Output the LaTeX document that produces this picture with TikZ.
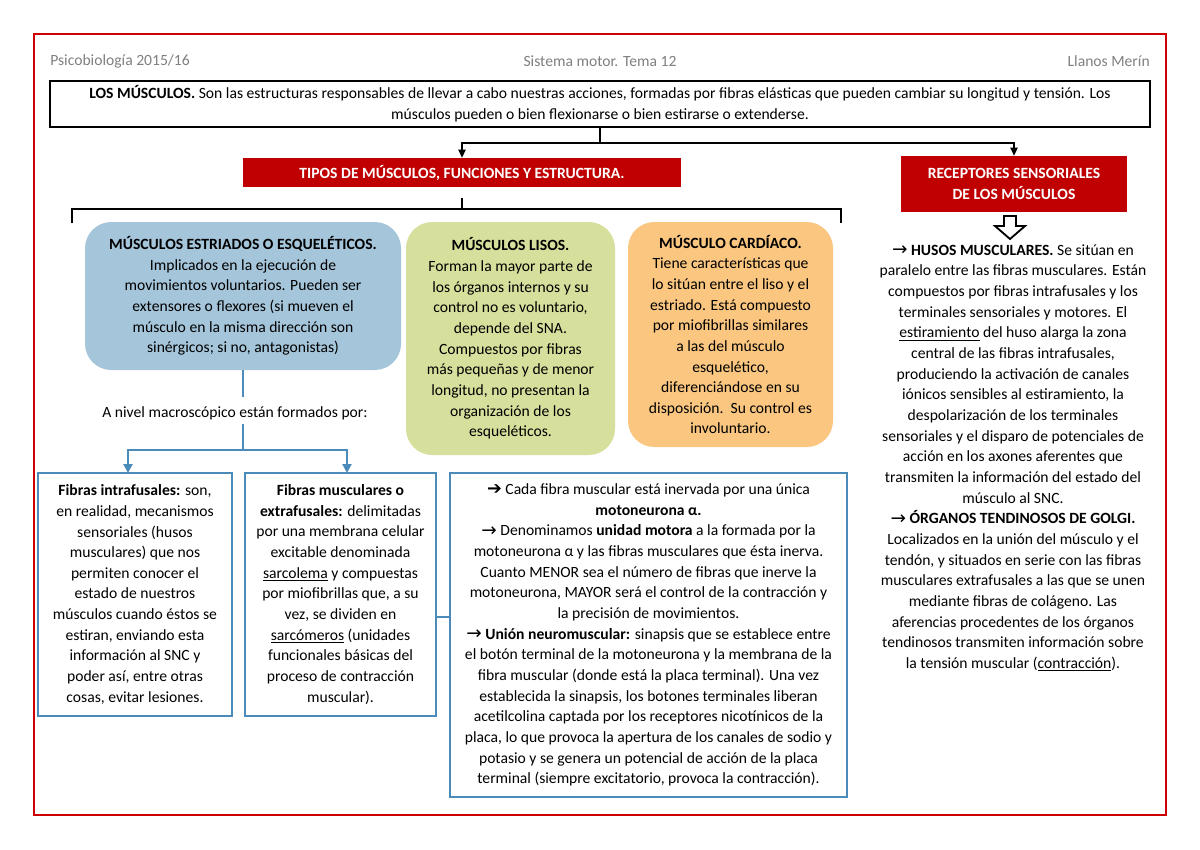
\documentclass[tikz,border=0pt]{standalone}
\usepackage{fontspec}
\setmainfont{Carlito}
\newfontfamily\symf{DejaVu Sans}
\usetikzlibrary{arrows.meta,calc}
\definecolor{dred}{HTML}{C00000}
\definecolor{frame}{RGB}{204,0,0}
\definecolor{bluef}{RGB}{165,197,218}
\definecolor{greenf}{RGB}{214,223,155}
\definecolor{orangef}{RGB}{250,198,128}
\definecolor{lineb}{RGB}{74,139,186}
\definecolor{hgray}{RGB}{128,128,128}
\newcommand{\pxl}{0.2475mm}
\newcommand{\ar}{\raisebox{-0.3pt}{\symf\fontsize{13}{10}\selectfont →}}
\newcommand{\barr}{\raisebox{-0.3pt}{\symf\fontsize{12.5}{10}\selectfont ➔}}
\tikzset{
  txt/.style={font=\fontsize{11}{14.55}\selectfont, align=center, inner sep=0pt},
  redbox/.style={txt, fill=dred, text=white, font=\fontsize{11}{14.55}\selectfont\bfseries},
  roundbox/.style={txt, rounded corners=6.5mm},
  bluebox/.style={txt, draw=lineb, line width=1.6pt},
  blkarrow/.style={-{Triangle[length=2mm,width=1.8mm]}, line width=1.1pt},
  bluearrow/.style={draw=lineb, line width=1.6pt, -{Triangle[length=2.2mm,width=2.2mm]}},
  blueline/.style={draw=lineb, line width=1.6pt},
}
\begin{document}
\begin{tikzpicture}[x=0.2475mm,y=-0.2475mm]
\useasboundingbox (0,0) rectangle (1200,849);
\fill[white] (0,0) rectangle (1200,849);
\draw[frame, line width=1.6pt] (34,34) rectangle (1166,815);

% header
\node[txt, text=hgray, anchor=west] (h1) at (50,61) {Psicobiología 2015/16};
\node[txt, text=hgray] (h2) at (600,61) {Sistema motor. Tema 12};
\node[txt, text=hgray, anchor=east] (h3) at (1150,61) {Llanos Merín};

% top box
\node[txt, draw, line width=1.5pt, minimum width={1100*\pxl}, minimum height={46*\pxl}] (top) at (600,104)
{\textbf{LOS MÚSCULOS.} Son las estructuras responsables de llevar a cabo nuestras acciones, formadas por fibras elásticas que pueden cambiar su longitud y tensión. Los\\
músculos pueden o bien flexionarse o bien estirarse o extenderse.};

% red boxes
\node[redbox, minimum width={438*\pxl}, minimum height={29*\pxl}] (tipos) at (462,172.5)
{TIPOS DE MÚSCULOS, FUNCIONES Y ESTRUCTURA.};
\node[redbox, minimum width={226*\pxl}, minimum height={56*\pxl}] (recep) at (1014,184)
{RECEPTORES SENSORIALES\\DE LOS MÚSCULOS};

\coordinate (j1) at (600,143);
\draw[line width=1.1pt] (top.south) -- (j1);
\draw[blkarrow] (j1) -| (tipos.north);
\draw[blkarrow] (j1) -| (recep.north);

% bracket
\draw[line width=1.1pt] (72,223) -- (72,209) -- (841,209) -- (841,223);
\draw[line width=1.1pt] (462,209) -- (462,198);

% coloured boxes
\node[roundbox, fill=bluef, minimum width={316*\pxl}, minimum height={148*\pxl}] (blue) at (243,296)
{\textbf{MÚSCULOS ESTRIADOS O ESQUELÉTICOS.}\\
Implicados en la ejecución de\\
movimientos voluntarios. Pueden ser\\
extensores o flexores (si mueven el\\
músculo en la misma dirección son\\
sinérgicos; si no, antagonistas)};

\node[roundbox, fill=greenf, minimum width={209*\pxl}, minimum height={233*\pxl}] (green) at (510.5,338.5)
{\textbf{MÚSCULOS LISOS.}\\
Forman la mayor parte de\\
los órganos internos y su\\
control no es voluntario,\\
depende del SNA.\\
Compuestos por fibras\\
más pequeñas y de menor\\
longitud, no presentan la\\
organización de los\\
esqueléticos.};

\node[roundbox, fill=orangef, minimum width={205*\pxl}, minimum height={225*\pxl}] (orange) at (730.5,334.5)
{\textbf{MÚSCULO CARDÍACO.}\\
Tiene características que\\
lo sitúan entre el liso y el\\
estriado. Está compuesto\\
por miofibrillas similares\\
a las del músculo\\
esquelético,\\
diferenciándose en su\\
disposición.\ \ Su control es\\
involuntario.};

% macro text and connectors
\node[txt] (macro) at (235,413) {A nivel macroscópico están formados por:};
\coordinate (m1) at (243,397);
\coordinate (m2) at (243,424);
\coordinate (j2) at (243,450);
\draw[blueline] (blue.south) -- (blue.south |- m1);
\draw[blueline] (m2) -- (j2);

% lower boxes
\node[bluebox, minimum width={194*\pxl}, minimum height={243*\pxl}] (boxA) at (135,594.5)
{\textbf{Fibras intrafusales:} son,\\
en realidad, mecanismos\\
sensoriales (husos\\
musculares) que nos\\
permiten conocer el\\
estado de nuestros\\
músculos cuando éstos se\\
estiran, enviando esta\\
información al SNC y\\
poder así, entre otras\\
cosas, evitar lesiones.};

\node[bluebox, minimum width={191*\pxl}, minimum height={243*\pxl}] (boxB) at (340.5,594.5)
{\textbf{Fibras musculares o}\\
\textbf{extrafusales:} delimitadas\\
por una membrana celular\\
excitable denominada\\
\underline{sarcolema} y compuestas\\
por miofibrillas que, a su\\
vez, se dividen en\\
\underline{sarcómeros} (unidades\\
funcionales básicas del\\
proceso de contracción\\
muscular).};

\node[bluebox, minimum width={397*\pxl}, minimum height={324*\pxl}] (boxC) at (648.5,635)
{\barr\ Cada fibra muscular está inervada por una única\\
\textbf{motoneurona α.}\\
\ar\ Denominamos \textbf{unidad motora} a la formada por la\\
motoneurona α y las fibras musculares que ésta inerva.\\
Cuanto MENOR sea el número de fibras que inerve la\\
motoneurona, MAYOR será el control de la contracción y\\
la precisión de movimientos.\\
\ar\ \textbf{Unión neuromuscular:} sinapsis que se establece entre\\
el botón terminal de la motoneurona y la membrana de la\\
fibra muscular (donde está la placa terminal). Una vez\\
establecida la sinapsis, los botones terminales liberan\\
acetilcolina captada por los receptores nicotínicos de la\\
placa, lo que provoca la apertura de los canales de sodio y\\
potasio y se genera un potencial de acción de la placa\\
terminal (siempre excitatorio, provoca la contracción).};

\coordinate (a1) at (128,473);
\coordinate (a2) at (347,473);
\draw[bluearrow] (j2) -| (a1);
\draw[bluearrow] (j2) -| (a2);
\coordinate (bc) at (443,617);
\draw[blueline] (boxB.east |- bc) -- (boxC.west |- bc);

% hollow arrow
\draw[line width=1.3pt, fill=white] (1004,216) -- (1016,216) -- (1016,226) -- (1025,226) -- (1010,239) -- (995,226) -- (1004,226) -- cycle;

% right column text
\node[txt] (rtext) at (1013,458)
{\ar\ \textbf{HUSOS MUSCULARES.} Se sitúan en\\
paralelo entre las fibras musculares. Están\\
compuestos por fibras intrafusales y los\\
terminales sensoriales y motores. El\\
\underline{estiramiento} del huso alarga la zona\\
central de las fibras intrafusales,\\
produciendo la activación de canales\\
iónicos sensibles al estiramiento, la\\
despolarización de los terminales\\
sensoriales y el disparo de potenciales de\\
acción en los axones aferentes que\\
transmiten la información del estado del\\
músculo al SNC.\\
\ar\ \textbf{ÓRGANOS TENDINOSOS DE GOLGI.}\\
Localizados en la unión del músculo y el\\
tendón, y situados en serie con las fibras\\
musculares extrafusales a las que se unen\\
mediante fibras de colágeno. Las\\
aferencias procedentes de los órganos\\
tendinosos transmiten información sobre\\
la tensión muscular (\underline{contracción}).};
\end{tikzpicture}
\end{document}
